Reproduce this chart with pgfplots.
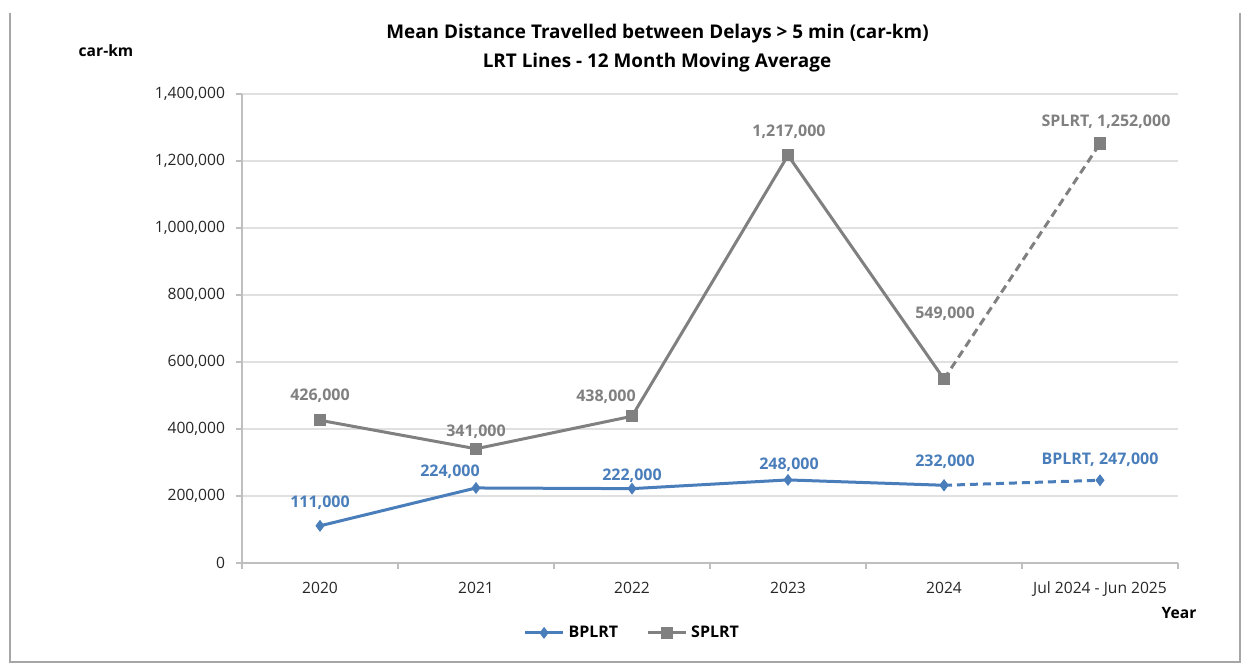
\documentclass[border=0pt]{standalone}
\usepackage{pgfplots}
\pgfplotsset{compat=1.18}
\usepackage{fontspec}
\setmainfont{Open Sans}
\definecolor{bl}{HTML}{4A7EBB}
\definecolor{gr}{HTML}{808080}
\definecolor{gridc}{HTML}{E0E0E0}
\definecolor{axc}{HTML}{BFBFBF}
\begin{document}
\begin{tikzpicture}
\path[use as bounding box] (-121pt,-53.5pt) rectangle (506pt,281.5pt);
\draw[color=gray!70, line width=0.8pt] (-116pt,275pt) -- (-116pt,-49.5pt) -- (499pt,-49.5pt) -- (499pt,275pt);
\begin{axis}[
  scale only axis, width=468pt, height=234.5pt,
  xmin=-0.5, xmax=5.5, ymin=0, ymax=1400000,
  axis x line*=bottom, axis y line*=left,
  axis line style={-, draw=axc, line width=0.8pt},
  xtick={0,1,2,3,4,5},
  xticklabels={2020,2021,2022,2023,2024,Jul 2024 - Jun 2025},
  x tick style={draw=none},
  minor xtick={-0.5,0.5,1.5,2.5,3.5,4.5,5.5},
  minor x tick style={draw=axc, line width=0.8pt},
  minor tick length=3pt,
  ytick={0,200000,...,1400000},
  y tick style={draw=axc, line width=0.8pt},
  major tick length=3pt,
  tick align=outside,
  ymajorgrids, grid style={draw=gridc, line width=0.8pt},
  scaled y ticks=false,
  /pgf/number format/.cd, fixed, 1000 sep={,}, assume math mode=true,
  /pgfplots/.cd,
  tick label style={font=\fontsize{7.8}{9}\selectfont, text=black!85},
  xticklabel style={yshift=-3pt},
  yticklabel style={xshift=-2pt},
  legend style={at={(0.418,-0.149)}, anchor=center, draw=none, fill=none,
    legend columns=2, font=\fontsize{8}{9}\selectfont\bfseries,
    /tikz/every even column/.append style={column sep=12pt}},
  legend image code/.code={\draw[#1, mark repeat=2, mark phase=2] plot coordinates {(0pt,0pt) (9.5pt,0pt) (19pt,0pt)};},
]
\addplot[bl, line width=1.5pt, mark=diamond*, mark size=2.6pt, mark options={solid, fill=bl, line width=0.5pt}]
  coordinates {(0,111000) (1,224000) (2,222000) (3,248000) (4,232000)};
\addlegendentry{BPLRT}
\addplot[gr, line width=1.5pt, mark=square*, mark size=2.8pt, mark options={solid, fill=gr, line width=0.5pt}]
  coordinates {(0,426000) (1,341000) (2,438000) (3,1217000) (4,549000)};
\addlegendentry{SPLRT}
\addplot[bl, line width=1.5pt, dashed, dash pattern=on 4pt off 2.5pt, mark=diamond*, mark size=2.6pt, mark options={solid, fill=bl, line width=0.5pt}, forget plot]
  coordinates {(4,232000) (5,247000)};
\addplot[gr, line width=1.5pt, dash pattern=on 4pt off 2.5pt, mark=square*, mark size=2.8pt, mark options={solid, fill=gr, line width=0.5pt}, forget plot]
  coordinates {(4,549000) (5,1252000)};
\end{axis}
% titles
\node[font=\fontsize{9.45}{10}\selectfont\bfseries] at (207.75pt,264.5pt) {Mean Distance Travelled between Delays > 5 min (car-km)};
\node[font=\fontsize{9.45}{10}\selectfont\bfseries] at (207.5pt,250.3pt) {LRT Lines - 12 Month Moving Average};
\node[font=\fontsize{7.8}{9}\selectfont\bfseries] at (-68pt,256pt) {car-km};
\node[font=\fontsize{7.8}{9}\selectfont\bfseries] at (468.5pt,-25pt) {Year};
% data labels
\begin{scope}[every node/.style={font=\fontsize{8}{9}\selectfont\bfseries}]
\node[text=gr] at (39pt,83.5pt) {426,000};
\node[text=gr] at (117pt,65.5pt) {341,000};
\node[text=gr] at (182pt,83pt) {438,000};
\node[text=gr] at (273.5pt,215.5pt) {1,217,000};
\node[text=gr] at (351.5pt,124.5pt) {549,000};
\node[text=gr] at (432pt,220.5pt) {SPLRT, 1,252,000};
\node[text=bl] at (39pt,30pt) {111,000};
\node[text=bl] at (104pt,45.5pt) {224,000};
\node[text=bl] at (195pt,43.5pt) {222,000};
\node[text=bl] at (273.5pt,49pt) {248,000};
\node[text=bl] at (351.5pt,50.5pt) {232,000};
\node[text=bl] at (429pt,51.5pt) {BPLRT, 247,000};
\end{scope}
\end{tikzpicture}
\end{document}
